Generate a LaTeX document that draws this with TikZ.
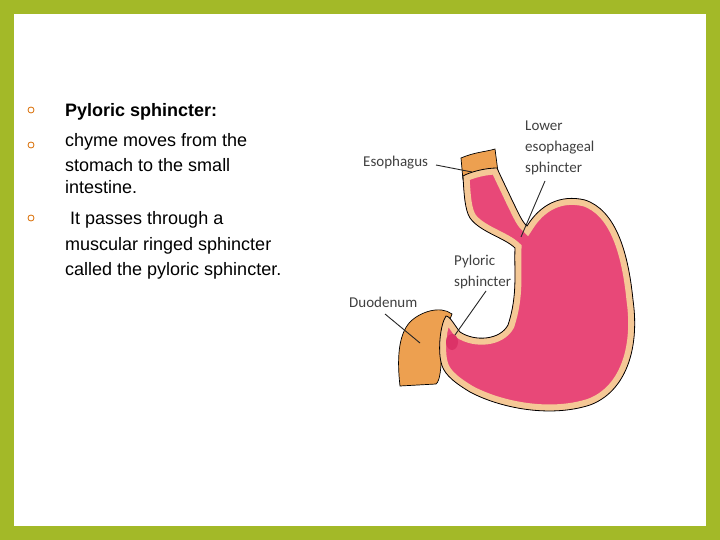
\documentclass[tikz,border=0pt]{standalone}
\usepackage{fontspec}
\setmainfont{Liberation Sans}
\newfontfamily\lblfont{Carlito}
\begin{document}
\begin{tikzpicture}[x=1pt,y=-1pt,
  body/.style={font=\fontsize{18}{22}\selectfont,anchor=base west,text=black,inner sep=0},
  lbl/.style={font=\lblfont\fontsize{15}{21}\selectfont,text=black!75,anchor=base west,inner sep=0},
  bul/.style={circle,draw=orange!85!black,line width=0.8pt,minimum size=6pt,inner sep=0},
  ptr/.style={draw=black!85,line width=0.9pt}]
\definecolor{frame}{RGB}{163,185,40}
\definecolor{tanc}{RGB}{245,200,150}
\definecolor{pinkc}{RGB}{232,72,120}
\definecolor{orangec}{RGB}{237,160,80}
\fill[frame] (0,0) rectangle (720,540);
\fill[white] (14,14) rectangle (706,526);
% bullets and text
\node[bul] (b1) at (31,110) {};
\node[bul] (b2) at (31,145) {};
\node[bul] (b3) at (31,218) {};
\node[body,font=\bfseries\fontsize{18}{22}\selectfont] (t1) at (65,117) {Pyloric sphincter:};
\node[body] (t2) at (65,147) {chyme moves from the};
\node[body] (t3) at (65,172) {stomach to the small};
\node[body] (t4) at (65,194) {intestine.};
\node[body] (t5) at (65,225) {\ It passes through a};
\node[body] (t6) at (65,250) {muscular ringed sphincter};
\node[body] (t7) at (65,275) {called the pyloric sphincter.};
% duodenum
\draw[fill=orangec,line width=0.7pt] (400,386) .. controls (397,360) and (398,335) .. (410,322) .. controls (420,312) and (440,305) .. (452,314) -- (442,340) -- (441,365) .. controls (440,378) and (438,383) .. (436,384) -- cycle;
% esophagus top
\draw[fill=orangec,line width=0.7pt] (463,180) -- (461,158) .. controls (475,152) and (485,152) .. (495,149) -- (498,172) -- cycle;
% stomach
\def\stom{(463,176) .. controls (464,195) and (465,210) .. (470,218) .. controls (480,232) and (505,238) .. (515,248) .. controls (514,270) and (518,295) .. (508,325) .. controls (500,340) and (475,342) .. (460,332) .. controls (455,326) and (450,316) .. (446,316) .. controls (440,325) and (438,350) .. (441,362) .. controls (443,372) and (450,380) .. (470,392) .. controls (500,408) and (550,418) .. (590,405) .. controls (625,392) and (640,350) .. (633,300) .. controls (628,250) and (615,210) .. (585,200) .. controls (560,194) and (540,205) .. (527,226) .. controls (522,222) and (518,212) .. (512,200) .. controls (505,185) and (500,175) .. (497,168) .. controls (485,168) and (470,172) .. (463,176) -- cycle}
\fill[pinkc] \stom;
\begin{scope}
\clip \stom;
\draw[tanc,line width=13pt] \stom;
\end{scope}
\draw[line width=0.8pt] \stom;
\fill[pinkc!70!purple] (452,342) ellipse (6 and 8);
% labels
\node[lbl] (les1) at (525,131) {Lower};
\node[lbl] (les2) at (525,152) {esophageal};
\node[lbl] (les) at (525,173) {sphincter};
\node[lbl] (eso) at (363,167) {Esophagus};
\node[lbl] (pyl1) at (454,265) {Pyloric};
\node[lbl] (pyl) at (454,286) {sphincter};
\node[lbl] (duo) at (349,307) {Duodenum};
\coordinate (e1) at (472,172);
\coordinate (l1) at (521,237);
\coordinate (p1) at (455,335);
\coordinate (d1) at (420,343);
\draw[ptr] (545,181) -- (l1);
\draw[ptr] (436,165) -- (e1);
\draw[ptr] (486,291) -- (p1);
\draw[ptr] (385,314) -- (d1);
\end{tikzpicture}
\end{document}
